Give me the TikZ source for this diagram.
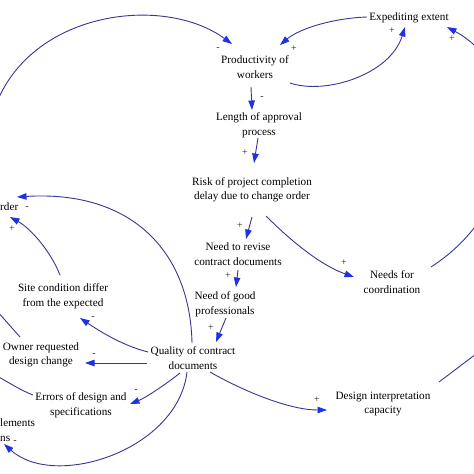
\documentclass[tikz,border=0pt]{standalone}
\usepackage{fontspec}
\setmainfont{Liberation Serif}
\usetikzlibrary{arrows.meta}
\definecolor{linkblue}{RGB}{55,55,150}
\definecolor{tipblue}{RGB}{30,50,225}
\begin{document}
\begin{tikzpicture}[x=1pt,y=-1pt,
  var/.style={font=\fontsize{11.2}{14.5}\selectfont, align=center, inner sep=1pt, text=black},
  sgn/.style={font=\fontsize{10}{10}\selectfont, inner sep=0pt, text=black!85},
  link/.style={draw=linkblue, line width=0.9pt, -{Triangle[length=9.5pt,width=6.5pt,color=tipblue]}},
  plainlink/.style={draw=linkblue, line width=0.9pt},
]
\useasboundingbox (0,0) rectangle (474,474);
\clip (0,0) rectangle (474,474);
\fill[white] (0,0) rectangle (474,474);

% variables
\node[var] (exp) at (409,18) {Expediting extent};
\node[var] (prod) at (255,67) {Productivity of\\workers};
\node[var] (len) at (259,125) {Length of approval\\process};
\node[var] (risk) at (252,190) {Risk of project completion\\delay due to change order};
\node[var] (revise) at (238,254) {Need to revise\\contract documents};
\node[var] (good) at (225,304) {Need of good\\professionals};
\node[var] (quality) at (193,358) {Quality of contract\\documents};
\node[var] (coord) at (392,282) {Needs for\\coordination};
\node[var] (site) at (63,296) {Site condition differ\\from the expected};
\node[var] (owner) at (41,355) {Owner requested\\design change};
\node[var] (errors) at (81,405) {Errors of design and\\specifications};
\node[var] (design) at (383,404) {Design interpretation\\capacity};
\node[var, anchor=west] (rder) at (-1,207) {rder};
\node[var, anchor=west, align=left] (lem) at (-1,430) {lements\\ns};

% free ends
\coordinate (L1) at (-3,102);
\coordinate (L2) at (-3,311);
\coordinate (L3) at (-3,376);
\coordinate (R2) at (480,351);

% connectors
\draw[link] (L1) .. controls (35,10) and (165,-5) .. ([shift={(-23,-23)}]prod.center);
\draw[link] ([shift={(-42,-1)}]exp.center) .. controls (335,18) and (300,28) .. ([shift={(25,-22)}]prod.center);
\draw[link] ([shift={(35,16)}]prod.center) .. controls (325,95) and (390,75) .. ([shift={(-4,9)}]exp.center);
\draw[link] ([shift={(39,-15)}]coord.center) .. controls (530,203) and (530,72) .. ([shift={(38,9)}]exp.center);
\draw[link] ([shift={(-4,20)}]prod.center) -- ([shift={(-7,-15)}]len.center);
\draw[link] ([shift={(-1,13)}]len.center) -- ([shift={(2,-27)}]risk.center);
\draw[link] ([shift={(0,27)}]risk.center) -- ([shift={(8,-15)}]revise.center);
\draw[link] ([shift={(0,16)}]revise.center) -- ([shift={(11,-17)}]good.center);
\draw[link] ([shift={(1,14)}]good.center) -- ([shift={(23,-16)}]quality.center);
\draw[link] ([shift={(14,26)}]risk.center) .. controls (290,240) and (320,265) .. ([shift={(-38,-5)}]coord.center);
\draw[link] ([shift={(17,14)}]quality.center) .. controls (245,392) and (290,410) .. ([shift={(-56,6)}]design.center);
\draw[plainlink] ([shift={(56,-22)}]design.center) -- (R2);
\draw[link] ([shift={(-1,-15)}]quality.center) .. controls (190,250) and (130,190) .. ([shift={(18,-10)}]rder.west);
\draw[link] ([shift={(-3,-21)}]site.center) .. controls (50,250) and (30,228) .. ([shift={(11,10)}]rder.west);
\draw[link] ([shift={(-45,-6)}]quality.center) .. controls (120,345) and (95,328) .. ([shift={(17,22)}]site.center);
\draw[link] ([shift={(-46,5)}]quality.center) -- ([shift={(44,8)}]owner.center);
\draw[link] ([shift={(-13,15)}]quality.center) .. controls (165,385) and (145,398) .. ([shift={(49,-1)}]errors.center);
\draw[link] ([shift={(-6,14)}]quality.center) .. controls (178,450) and (55,490) .. ([shift={(5,14)}]lem.west);
\draw[plainlink] ([shift={(-21,-18)}]owner.center) .. controls (12,328) and (5,320) .. (L2);
\draw[plainlink] ([shift={(-48,-10)}]errors.center) .. controls (20,390) and (8,382) .. (L3);

% polarity signs
\node[sgn] (s1) at (218,49) {-};
\node[sgn] (s2) at (294,49) {+};
\node[sgn] (s3) at (392,31) {+};
\node[sgn] (s4) at (452,39) {+};
\node[sgn] (s5) at (262,98) {-};
\node[sgn] (s6) at (245,153) {+};
\node[sgn] (s7) at (240,226) {+};
\node[sgn] (s8) at (228,276) {+};
\node[sgn] (s9) at (211,328) {+};
\node[sgn] (s10) at (344,263) {+};
\node[sgn] (s11) at (317,400) {+};
\node[sgn] (s12) at (27,208) {-};
\node[sgn] (s13) at (12,229) {+};
\node[sgn] (s14) at (93,318) {-};
\node[sgn] (s15) at (94,355) {-};
\node[sgn] (s16) at (136,391) {-};
\node[sgn] (s17) at (15,442) {-};
\end{tikzpicture}
\end{document}
